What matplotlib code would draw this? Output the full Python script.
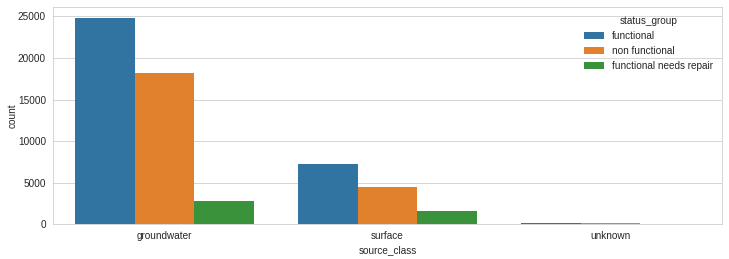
import matplotlib
matplotlib.use("Agg")
import matplotlib.pyplot as plt
import pandas as pd
import seaborn as sns

# counts
source_class = ["groundwater", "surface", "unknown"]
status_group = ["functional", "non functional", "functional needs repair"]
functional = [24850, 7250, 150]
non_functional = [18150, 4470, 115]
needs_repair = [2790, 1610, 13]

rows = []
for i, src in enumerate(source_class):
    for st, vals in zip(status_group, [functional, non_functional, needs_repair]):
        rows.append({"source_class": src, "status_group": st, "count": vals[i]})
df = pd.DataFrame(rows)

sns.set_style("whitegrid")
plt.rcParams["font.family"] = ["sans-serif"]
plt.rcParams["font.sans-serif"] = ["Liberation Sans", "DejaVu Sans"]

fig = plt.figure(figsize=(729 / 72, 259 / 72), dpi=72)
ax = fig.add_axes([53 / 729, 1 - 224.3 / 259, 669 / 729, 217 / 259])

sns.barplot(data=df, x="source_class", y="count", hue="status_group",
            hue_order=status_group, order=source_class,
            palette="tab10", saturation=0.75, errorbar=None,
            linewidth=0, ax=ax)
ax.set_xlim(-0.5, 2.5)
ax.yaxis.labelpad = 0
ax.legend(title="status_group", loc="upper right", frameon=False)

fig.savefig("out.png", dpi=72)
